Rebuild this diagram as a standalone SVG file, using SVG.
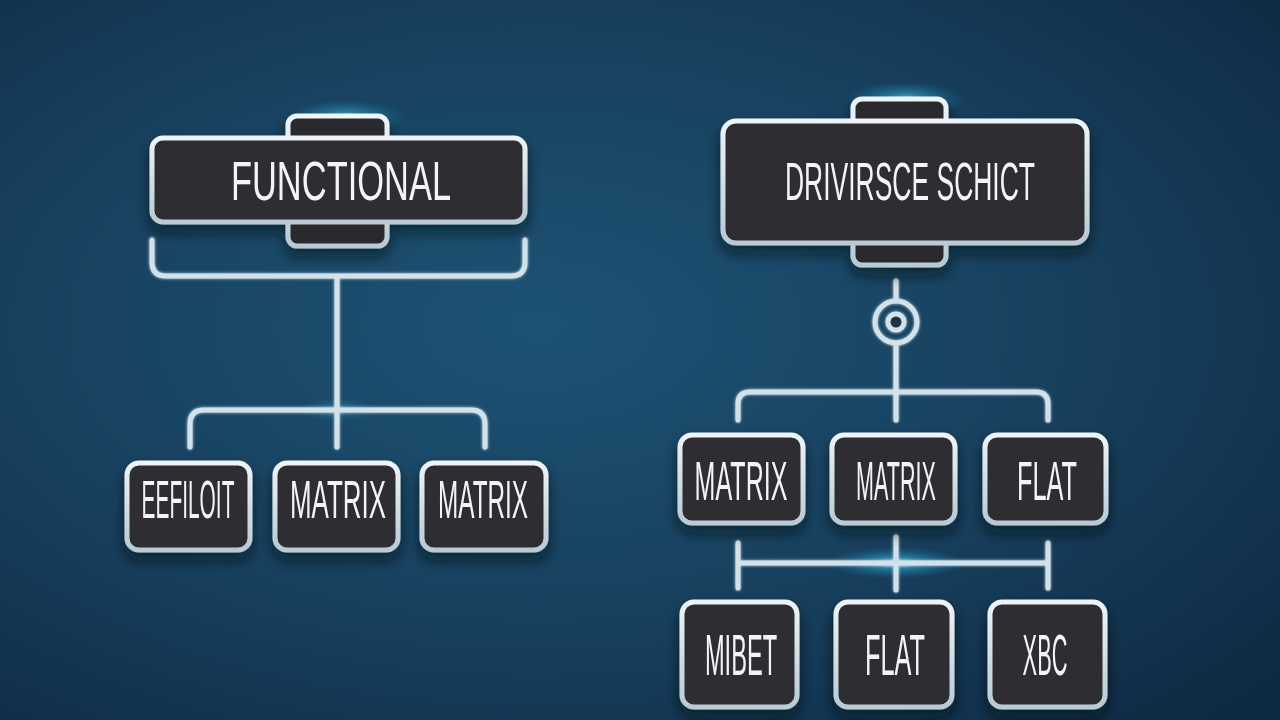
<svg xmlns="http://www.w3.org/2000/svg" width="1280" height="720" viewBox="0 0 1280 720">
<defs>
<radialGradient id="bg" cx="0.42" cy="0.45" r="0.75">
<stop offset="0" stop-color="#1d5274"/>
<stop offset="0.55" stop-color="#17405e"/>
<stop offset="1" stop-color="#0f2a44"/>
</radialGradient>
<linearGradient id="stk" x1="0" y1="0" x2="0" y2="1">
<stop offset="0" stop-color="#eef4f7"/>
<stop offset="1" stop-color="#b9cad4"/>
</linearGradient>
<radialGradient id="glow">
<stop offset="0" stop-color="#9ff0ff" stop-opacity="0.95"/>
<stop offset="0.35" stop-color="#3cc6ee" stop-opacity="0.45"/>
<stop offset="1" stop-color="#1a8fc0" stop-opacity="0"/>
</radialGradient>
<filter id="shadow" x="-20%" y="-20%" width="140%" height="160%">
<feDropShadow dx="0" dy="8" stdDeviation="7" flood-color="#050d18" flood-opacity="0.6"/>
</filter>
<filter id="soft" x="-20%" y="-20%" width="140%" height="140%">
<feGaussianBlur stdDeviation="1.5" result="b"/>
<feMerge><feMergeNode in="b"/><feMergeNode in="SourceGraphic"/></feMerge>
</filter>
<style>
.box{fill:#2d2e30;stroke:url(#stk);stroke-width:5}
.tab{fill:#2a2b2d;stroke:url(#stk);stroke-width:5}
.ln{fill:none;stroke:#d3e2ea;stroke-width:5;stroke-linecap:round;stroke-linejoin:round}
.lbl{fill:#f2f4f5;font-family:"Liberation Sans",Arial,sans-serif;font-weight:400;text-anchor:middle}
</style>
</defs>
<rect width="1280" height="720" fill="url(#bg)"/>

<!-- glows -->
<ellipse cx="345" cy="118" rx="60" ry="18" fill="url(#glow)"/>
<ellipse cx="905" cy="100" rx="60" ry="18" fill="url(#glow)"/>
<ellipse cx="896" cy="563" rx="70" ry="16" fill="url(#glow)"/>
<ellipse cx="337" cy="410" rx="40" ry="12" fill="url(#glow)" opacity="0.5"/>

<g id="connectors" filter="url(#soft)">
<path class="ln" d="M152,240 V262 Q152,276 166,276 H511 Q525,276 525,262 V240"/>
<path class="ln" d="M337,278 V447"/>
<path class="ln" d="M190,447 V424 Q190,410 204,410 H471 Q485,410 485,424 V447"/>
<path class="ln" d="M896,281 V298"/>
<circle cx="896" cy="322" r="21" fill="none" stroke="#d3e2ea" stroke-width="5"/>
<circle cx="896" cy="322" r="8" fill="#1e3346" stroke="#d3e2ea" stroke-width="5"/>
<path class="ln" d="M896,346 V420"/>
<path class="ln" d="M738,420 V404 Q738,392 750,392 H1036 Q1048,392 1048,404 V420"/>
<path class="ln" d="M738,543 V588"/>
<path class="ln" d="M896,537 V590"/>
<path class="ln" d="M1048,543 V588"/>
<path class="ln" d="M740,563 H1046"/>
</g>

<g id="node-functional" filter="url(#shadow)">
<rect class="tab" x="288" y="116" width="99" height="130" rx="9"/>
<rect class="box" x="152" y="138" width="373" height="84" rx="11"/>
<text class="lbl" transform="translate(341,200) scale(0.615,1)" font-size="56" textLength="358" lengthAdjust="spacingAndGlyphs">FUNCTIONAL</text>
</g>

<g id="node-drivirsce" filter="url(#shadow)">
<rect class="tab" x="853" y="99" width="93" height="166" rx="9"/>
<rect class="box" x="723" y="121" width="364" height="122" rx="13"/>
<text class="lbl" transform="translate(910,200) scale(0.5,1)" font-size="53" textLength="500" lengthAdjust="spacingAndGlyphs">DRIVIRSCE SCHICT</text>
</g>

<g id="node-eefiloit" filter="url(#shadow)">
<rect class="box" x="127" y="463" width="123" height="87" rx="12"/>
<text class="lbl" transform="translate(188,518) scale(0.39,1)" font-size="53" textLength="238" lengthAdjust="spacingAndGlyphs">EEFILOIT</text>
</g>
<g id="node-matrix-l1" filter="url(#shadow)">
<rect class="box" x="275" y="463" width="123" height="87" rx="12"/>
<text class="lbl" transform="translate(338,518) scale(0.49,1)" font-size="53" textLength="196" lengthAdjust="spacingAndGlyphs">MATRIX</text>
</g>
<g id="node-matrix-l2" filter="url(#shadow)">
<rect class="box" x="422" y="463" width="124" height="87" rx="12"/>
<text class="lbl" transform="translate(483,518) scale(0.45,1)" font-size="53" textLength="200" lengthAdjust="spacingAndGlyphs">MATRIX</text>
</g>

<g id="node-matrix-r1" filter="url(#shadow)">
<rect class="box" x="680" y="435" width="123" height="88" rx="12"/>
<text class="lbl" transform="translate(741,500) scale(0.44,1)" font-size="56" textLength="211" lengthAdjust="spacingAndGlyphs">MATRIX</text>
</g>
<g id="node-matrix-r2" filter="url(#shadow)">
<rect class="box" x="832" y="435" width="123" height="88" rx="12"/>
<text class="lbl" transform="translate(896,500) scale(0.38,1)" font-size="56" textLength="210" lengthAdjust="spacingAndGlyphs">MATRIX</text>
</g>
<g id="node-flat-r" filter="url(#shadow)">
<rect class="box" x="985" y="435" width="121" height="88" rx="12"/>
<text class="lbl" transform="translate(1047,500) scale(0.44,1)" font-size="56" textLength="136" lengthAdjust="spacingAndGlyphs">FLAT</text>
</g>

<g id="node-mibet" filter="url(#shadow)">
<rect class="box" x="682" y="602" width="115" height="105" rx="12"/>
<text class="lbl" transform="translate(741,675) scale(0.41,1)" font-size="58" textLength="176" lengthAdjust="spacingAndGlyphs">MIBET</text>
</g>
<g id="node-flat-b" filter="url(#shadow)">
<rect class="box" x="836" y="602" width="116" height="105" rx="12"/>
<text class="lbl" transform="translate(895,675) scale(0.425,1)" font-size="58" textLength="141" lengthAdjust="spacingAndGlyphs">FLAT</text>
</g>
<g id="node-xbc" filter="url(#shadow)">
<rect class="box" x="990" y="602" width="115" height="105" rx="12"/>
<text class="lbl" transform="translate(1045,675) scale(0.38,1)" font-size="58" textLength="118" lengthAdjust="spacingAndGlyphs">XBC</text>
</g>
</svg>
